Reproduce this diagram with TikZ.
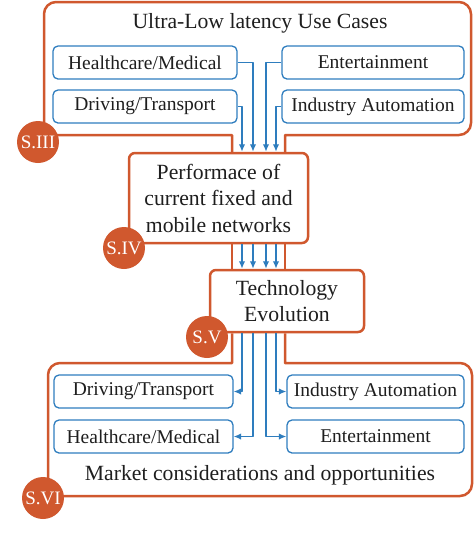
\documentclass[tikz,border=0pt]{standalone}
\usepackage{fontspec}
\setmainfont{Liberation Serif}
\usepackage{tikz}
\usetikzlibrary{arrows.meta}
\definecolor{sorange}{RGB}{208,88,46}
\definecolor{cblue}{RGB}{46,125,190}
\definecolor{ink}{RGB}{30,30,30}
\newcommand{\bigtext}{\fontsize{21.7}{26.5}\selectfont}
\newcommand{\boxtext}{\fontsize{19.5}{23}\selectfont}

\begin{document}
\begin{tikzpicture}[x=1pt, y=-1pt, line join=round, every node/.append style={text=ink},
  frame/.style={draw=sorange, line width=2.5pt},
  flow/.style={draw=cblue, line width=1.4pt, -{Latex[length=7.5pt, width=6.5pt]}}]
\useasboundingbox (0,0) rectangle (474,539);
% lanes of the arrows and of the frame stubs
\coordinate (s1) at (232,0);
\coordinate (s2) at (285,0);
\coordinate (a) at (242,0);
\coordinate (b) at (253,0);
\coordinate (c) at (266,0);
\coordinate (d) at (276,0);
\node[font=\bigtext] (utitle) at (260,23) {Ultra-Low latency Use Cases};
\node[font=\bigtext] (market) at (260,475) {Market considerations and opportunities};
\begin{scope}[every node/.style={draw=cblue, line width=1.3pt, rounded corners=5pt, minimum height=33pt, inner sep=0pt, font=\boxtext, text=ink}]
  \node[minimum width=184pt] (uhealth) at (145,62.5) {Healthcare/Medical};
  \node[minimum width=184pt] (udrive) at (145,106.5) {Driving/Transport};
  \node[minimum width=182pt] (uent) at (373,62.5) {Entertainment};
  \node[minimum width=182pt] (uind) at (373,106.5) {Industry Automation};
  \node[minimum width=179pt] (ldrive) at (143.5,391.5) {Driving/Transport};
  \node[minimum width=179pt] (lhealth) at (143.5,436.5) {Healthcare/Medical};
  \node[minimum width=177pt] (rind) at (375.5,391.5) {Industry Automation};
  \node[minimum width=177pt] (rent) at (375.5,436.5) {Entertainment};
\end{scope}
\begin{scope}[every node/.style={frame, fill=white, rounded corners=6pt, align=center, inner sep=0pt, font=\bigtext, text=ink}]
  \node[minimum width=179pt, minimum height=90pt] (perf) at (218.5,198) {Performace of\\current fixed and\\mobile networks};
  \node[minimum width=154pt, minimum height=62pt] (tech) at (287,301) {Technology\\Evolution};
\end{scope}
% frames
\draw[frame] (perf.north -| s1) -- (232,135) -- (150,135) [rounded corners=12pt] -- (44,135) -- (44,2)
  -- (471,2) -- (471,135) -- (380,135) [sharp corners] -- (285,135) -- (perf.north -| s2);
\draw[frame] (tech.south -| s1) -- (232,363) -- (150,363) [rounded corners=12pt] -- (48,363) -- (48,496)
  -- (472,496) -- (472,363) -- (380,363) [sharp corners] -- (285,363) -- (tech.south -| s2);
\draw[frame] (perf.south -| s1) -- (tech.north -| s1);
\draw[frame] (perf.south -| s2) -- (tech.north -| s2);
% flows
\draw[flow] (udrive.east) -| (perf.north -| a);
\draw[flow] (uhealth.east) -| (perf.north -| b);
\draw[flow] (uent.west) -| (perf.north -| c);
\draw[flow] (uind.west) -| (perf.north -| d);
\foreach \l in {a,b,c,d}
  \draw[flow] (perf.south -| \l) -- (tech.north -| \l);
\draw[flow] (tech.south -| a) |- (ldrive.east);
\draw[flow] (tech.south -| b) |- (lhealth.east);
\draw[flow] (tech.south -| c) |- (rent.west);
\draw[flow] (tech.south -| d) |- (rind.west);
\begin{scope}[every node/.style={circle, fill=sorange, text=white, minimum size=42pt, inner sep=0pt, font=\fontsize{19}{19}\selectfont}]
  \node (s3) at (38,142) {S.III};
  \node (s4) at (124,248) {S.IV};
  \node (s5) at (207,337) {S.V};
  \node (s6) at (43,498) {S.VI};
\end{scope}
\end{tikzpicture}
\end{document}
